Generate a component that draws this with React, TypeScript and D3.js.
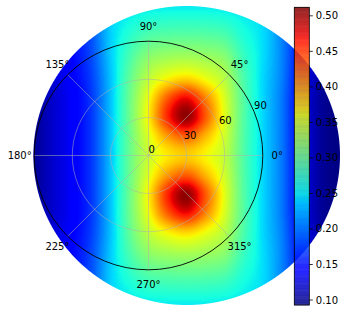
import React, { useMemo } from 'react';
import * as d3 from 'd3';

// ---- data ----
const U_NODES = [-90, -75, -60, -45, -30, -15, 0, 15, 30, 45, 60, 75, 90, 105, 120, 135, 150];
const V_NODES = [120, 105, 90, 75, 60, 45, 30, 15, 0, -15, -30, -45, -60, -75, -90, -105, -120];
const FIELD = [
  [0.112, 0.132, 0.152, 0.18, 0.228, 0.235, 0.238, 0.24, 0.24, 0.24, 0.238, 0.235, 0.232, 0.2, 0.15, 0.112, 0.1],
  [0.112, 0.132, 0.152, 0.18, 0.23, 0.249, 0.261, 0.264, 0.265, 0.264, 0.26, 0.247, 0.235, 0.2, 0.15, 0.112, 0.1],
  [0.11, 0.13, 0.15, 0.178, 0.23, 0.264, 0.287, 0.293, 0.295, 0.293, 0.286, 0.258, 0.237, 0.2, 0.15, 0.112, 0.1],
  [0.108, 0.128, 0.146, 0.175, 0.228, 0.278, 0.314, 0.326, 0.33, 0.324, 0.312, 0.27, 0.237, 0.2, 0.146, 0.11, 0.1],
  [0.105, 0.125, 0.143, 0.171, 0.225, 0.288, 0.337, 0.368, 0.382, 0.361, 0.332, 0.278, 0.235, 0.198, 0.143, 0.108, 0.097],
  [0.103, 0.122, 0.14, 0.168, 0.225, 0.293, 0.36, 0.434, 0.472, 0.416, 0.349, 0.282, 0.235, 0.195, 0.14, 0.105, 0.095],
  [0.103, 0.122, 0.14, 0.168, 0.225, 0.294, 0.367, 0.457, 0.505, 0.434, 0.354, 0.282, 0.235, 0.195, 0.14, 0.105, 0.095],
  [0.103, 0.122, 0.14, 0.168, 0.225, 0.292, 0.352, 0.405, 0.431, 0.392, 0.344, 0.281, 0.235, 0.195, 0.14, 0.105, 0.095],
  [0.103, 0.122, 0.14, 0.168, 0.225, 0.291, 0.342, 0.371, 0.383, 0.365, 0.337, 0.28, 0.235, 0.195, 0.14, 0.105, 0.095],
  [0.103, 0.122, 0.14, 0.168, 0.225, 0.292, 0.352, 0.405, 0.431, 0.392, 0.344, 0.281, 0.235, 0.195, 0.14, 0.105, 0.095],
  [0.103, 0.122, 0.14, 0.168, 0.225, 0.294, 0.367, 0.457, 0.505, 0.434, 0.354, 0.282, 0.235, 0.195, 0.14, 0.105, 0.095],
  [0.103, 0.122, 0.14, 0.168, 0.225, 0.293, 0.36, 0.434, 0.472, 0.416, 0.349, 0.282, 0.235, 0.195, 0.14, 0.105, 0.095],
  [0.105, 0.125, 0.143, 0.171, 0.225, 0.288, 0.337, 0.368, 0.382, 0.361, 0.332, 0.278, 0.235, 0.198, 0.143, 0.108, 0.097],
  [0.108, 0.128, 0.146, 0.175, 0.228, 0.278, 0.314, 0.326, 0.33, 0.324, 0.312, 0.27, 0.237, 0.2, 0.146, 0.11, 0.1],
  [0.11, 0.13, 0.15, 0.178, 0.23, 0.264, 0.287, 0.293, 0.295, 0.293, 0.286, 0.258, 0.237, 0.2, 0.15, 0.112, 0.1],
  [0.112, 0.132, 0.152, 0.18, 0.23, 0.249, 0.261, 0.264, 0.265, 0.264, 0.26, 0.247, 0.235, 0.2, 0.15, 0.112, 0.1],
  [0.112, 0.132, 0.152, 0.18, 0.228, 0.235, 0.238, 0.24, 0.24, 0.24, 0.238, 0.235, 0.232, 0.2, 0.15, 0.112, 0.1],
];
const V_MIN = 0.093;
const V_MAX = 0.512;
const ANGLE_TICKS = [0, 45, 90, 135, 180, 225, 270, 315];
const RADIAL_TICKS = [0, 30, 60, 90];
const R_MAX = 90;
const CBAR_TICKS = [0.1, 0.15, 0.2, 0.25, 0.3, 0.35, 0.4, 0.45, 0.5];

// ---- layout ----
const W = 347;
const H = 313;
const CX = 148.5;
const CY = 155.5;
const RPX = 114.3;
const DISC = { cx: 186.7, cy: 155.5, rx: 153.3, ry: 149.5 };
const CBAR = { x: 294.3, y: 7.3, w: 15, h: 297.7 };
const FONT = 'DejaVu Sans, sans-serif';

// matplotlib jet
const JET = {
  r: [[0, 0], [0.35, 0], [0.66, 1], [0.89, 1], [1, 0.5]],
  g: [[0, 0], [0.125, 0], [0.375, 1], [0.64, 1], [0.91, 0], [1, 0]],
  b: [[0, 0.5], [0.11, 1], [0.34, 1], [0.65, 0], [1, 0]],
};
function seg(pts: number[][], t: number) {
  for (let i = 1; i < pts.length; i++) {
    if (t <= pts[i][0]) {
      const [x0, y0] = pts[i - 1];
      const [x1, y1] = pts[i];
      return y0 + ((t - x0) / (x1 - x0)) * (y1 - y0);
    }
  }
  return pts[pts.length - 1][1];
}
function jet(t: number): [number, number, number] {
  t = Math.max(0, Math.min(1, t));
  t = Math.min(255, Math.floor(t * 256)) / 255;
  return [seg(JET.r, t) * 255, seg(JET.g, t) * 255, seg(JET.b, t) * 255];
}

const xScale = d3.scaleLinear().domain([-R_MAX, R_MAX]).range([CX - RPX, CX + RPX]);
const yScale = d3.scaleLinear().domain([-R_MAX, R_MAX]).range([CY + RPX, CY - RPX]);
const rScale = d3.scaleLinear().domain([0, R_MAX]).range([0, RPX]);
const colorT = d3.scaleLinear().domain([V_MIN, V_MAX]).range([0, 1]);
const uIdx = d3.scaleLinear().domain([U_NODES[0], U_NODES[U_NODES.length - 1]]).range([0, U_NODES.length - 1]);
const vIdx = d3.scaleLinear().domain([V_NODES[0], V_NODES[V_NODES.length - 1]]).range([0, V_NODES.length - 1]);
const cbarScale = d3.scaleLinear().domain([V_MIN, V_MAX]).range([CBAR.y + CBAR.h, CBAR.y]);

function cr(p0: number, p1: number, p2: number, p3: number, t: number) {
  return p1 + 0.5 * t * (p2 - p0 + t * (2 * p0 - 5 * p1 + 4 * p2 - p3 + t * (3 * (p1 - p2) + p3 - p0)));
}
function zAt(j: number, i: number) {
  j = Math.max(0, Math.min(V_NODES.length - 1, j));
  i = Math.max(0, Math.min(U_NODES.length - 1, i));
  return FIELD[j][i];
}
function sample(u: number, v: number) {
  const fi = Math.max(0, Math.min(U_NODES.length - 1.0001, uIdx(u)));
  const fj = Math.max(0, Math.min(V_NODES.length - 1.0001, vIdx(v)));
  const i = Math.floor(fi), j = Math.floor(fj);
  const tx = fi - i, ty = fj - j;
  const rows = [-1, 0, 1, 2].map((dj) =>
    cr(zAt(j + dj, i - 1), zAt(j + dj, i), zAt(j + dj, i + 1), zAt(j + dj, i + 2), tx)
  );
  return cr(rows[0], rows[1], rows[2], rows[3], ty);
}

function useFieldImage() {
  return useMemo(() => {
    const x0 = Math.floor(DISC.cx - DISC.rx) - 1;
    const y0 = Math.floor(DISC.cy - DISC.ry) - 1;
    const w = Math.ceil(DISC.rx * 2) + 3;
    const h = Math.ceil(DISC.ry * 2) + 3;
    const canvas = document.createElement('canvas');
    canvas.width = w;
    canvas.height = h;
    const ctx = canvas.getContext('2d');
    if (!ctx) return { href: '', x0, y0, w, h };
    const img = ctx.createImageData(w, h);
    for (let py = 0; py < h; py++) {
      for (let px = 0; px < w; px++) {
        const X = x0 + px + 0.5;
        const Y = y0 + py + 0.5;
        const ex = (X - DISC.cx) / DISC.rx;
        const ey = (Y - DISC.cy) / DISC.ry;
        const rho = Math.sqrt(ex * ex + ey * ey);
        const a = Math.max(0, Math.min(1, (1 - rho) * DISC.rx + 0.5));
        const k = (py * w + px) * 4;
        if (a <= 0) {
          img.data[k + 3] = 0;
          continue;
        }
        const val = sample(xScale.invert(X), yScale.invert(Y));
        const [r, g, b] = jet(colorT(val));
        img.data[k] = r;
        img.data[k + 1] = g;
        img.data[k + 2] = b;
        img.data[k + 3] = Math.round(a * 255);
      }
    }
    ctx.putImageData(img, 0, 0);
    return { href: canvas.toDataURL(), x0, y0, w, h };
  }, []);
}

export default function App() {
  const field = useFieldImage();
  const nSteps = 256;
  const cbarSteps = d3.range(nSteps).map((k) => V_MIN + ((k + 0.5) / nSteps) * (V_MAX - V_MIN));
  const stepH = CBAR.h / nSteps;

  return (
    <svg width={W} height={H} style={{ position: 'absolute', left: 0, top: 0, background: '#fff' }}
      fontFamily={FONT} fontSize={10}>
      <image href={field.href} x={field.x0} y={field.y0} width={field.w} height={field.h} />
      {/* grid */}
      <g stroke="#b0b0b0" strokeOpacity={0.65} strokeWidth={0.8} fill="none">
        {ANGLE_TICKS.map((a) => {
          const rad = (a * Math.PI) / 180;
          return (
            <line key={a} x1={xScale(0)} y1={yScale(0)}
              x2={xScale(R_MAX * Math.cos(rad))} y2={yScale(R_MAX * Math.sin(rad))} />
          );
        })}
        {RADIAL_TICKS.filter((r) => r > 0 && r < R_MAX).map((r) => (
          <circle key={r} cx={xScale(0)} cy={yScale(0)} r={rScale(r)} />
        ))}
      </g>
      <circle cx={xScale(0)} cy={yScale(0)} r={rScale(R_MAX)} fill="none" stroke="#000" strokeWidth={0.9} />
      {/* angular labels */}
      {ANGLE_TICKS.map((a) => {
        const rad = (a * Math.PI) / 180;
        const rr = rScale(R_MAX) + 14.5;
        return (
          <text key={a} x={xScale(0) + rr * Math.cos(rad)} y={yScale(0) - rr * Math.sin(rad)}
            textAnchor="middle" dominantBaseline="central" fill="#000">{`${a}°`}</text>
        );
      })}
      {/* radial labels */}
      {RADIAL_TICKS.map((r) => {
        const rad = (22.5 * Math.PI) / 180;
        return (
          <text key={r} x={xScale(0) + rScale(r) * Math.cos(rad)} y={yScale(0) - rScale(r) * Math.sin(rad) - 2.3}
            textAnchor="start" fill="#000">{r}</text>
        );
      })}
      {/* colorbar */}
      <g>
        {cbarSteps.map((v, k) => {
          const [r, g, b] = jet(colorT(v));
          return (
            <rect key={k} x={CBAR.x} y={cbarScale(v) - stepH / 2 - 0.3} width={CBAR.w} height={stepH + 0.6}
              fill={`rgb(${Math.round(r)},${Math.round(g)},${Math.round(b)})`} fillOpacity={0.75} />
          );
        })}
        <rect x={CBAR.x} y={CBAR.y} width={CBAR.w} height={CBAR.h} fill="none" stroke="#000" strokeWidth={0.8} />
        {CBAR_TICKS.map((t) => (
          <g key={t}>
            <line x1={CBAR.x + CBAR.w} x2={CBAR.x + CBAR.w + 3.5} y1={cbarScale(t)} y2={cbarScale(t)}
              stroke="#000" strokeWidth={0.8} />
            <text x={CBAR.x + CBAR.w + 6.5} y={cbarScale(t)} dominantBaseline="central" fill="#000">
              {t.toFixed(2)}
            </text>
          </g>
        ))}
      </g>
    </svg>
  );
}
